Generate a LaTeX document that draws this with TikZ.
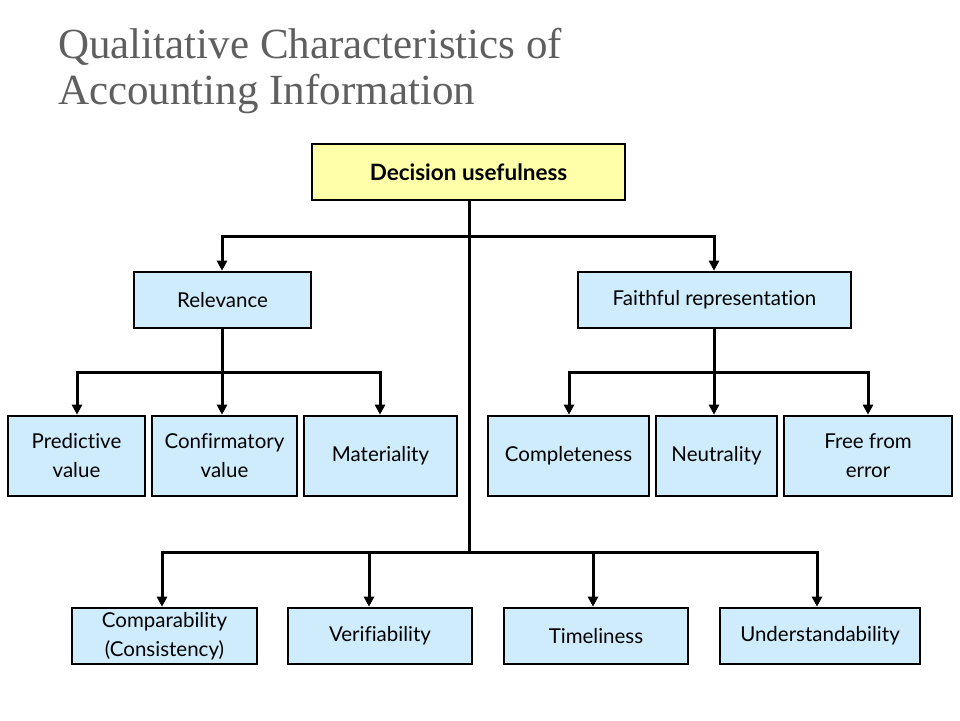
\documentclass[tikz,border=0pt]{standalone}
\usepackage{fontspec}
\setmainfont{Lato}[Ligatures=NoCommon]
\newfontfamily\titlefont{Liberation Serif}
\usetikzlibrary{arrows.meta}
\definecolor{boxblue}{RGB}{206,236,252}
\definecolor{boxyellow}{RGB}{255,255,170}
\definecolor{titlegray}{RGB}{95,95,95}
\begin{document}
\begin{tikzpicture}[x=1pt,y=-1pt,
  bx/.style={draw,line width=2.6pt,fill=boxblue,align=center,font=\fontsize{20.5}{29}\selectfont,inner sep=0pt},
  con/.style={line width=3pt},
  arr/.style={line width=3pt,-{Triangle[length=10pt,width=10pt]}}]
\useasboundingbox (0,0) rectangle (960,720);
\fill[white] (0,0) rectangle (960,720);
\node[anchor=north west,align=left,text=titlegray,font=\titlefont\fontsize{43}{46}\selectfont,inner sep=0pt] (title) at (58,28) {Qualitative Characteristics of\\Accounting Information};
\newcommand\bx[6]{\node[bx,minimum width=#3-#2,minimum height=#5-#4] (#1) at ({(#2+#3)/2},{(#4+#5)/2}) {#6};}
\node[draw,line width=2.6pt,fill=boxyellow,minimum width=313,minimum height=56,font=\bfseries\fontsize{22.5}{26}\selectfont] (dec) at (468.5,172) {Decision usefulness};
\bx{rel}{134}{311}{272}{328}{Relevance}
\bx{fai}{578}{851}{272}{328}{Faithful representation}
\bx{pre}{8}{145}{416}{496}{Predictive\\value}
\bx{con}{152}{297}{416}{496}{Confirmatory\\value}
\bx{mat}{304}{457}{416}{496}{Materiality}
\bx{com}{488}{649}{416}{496}{Completeness}
\bx{neu}{656}{777}{416}{496}{Neutrality}
\bx{fre}{784}{952}{416}{496}{Free from\\error}
\bx{cmp}{72}{257}{608}{664}{Comparability\\(Consistency)}
\bx{ver}{288}{472}{608}{664}{Verifiability}
\bx{tim}{504}{688}{608}{664}{Timeliness}
\bx{und}{720}{920}{608}{664}{Understandability}
\coordinate (t1) at (469,236);
\coordinate (t2) at (469,553.5);
\draw[con] (dec.south -| t1) -- (t2);
\draw[con] (220.5,236) -- (715.5,236);
\draw[arr] (222,234.5) -- (rel.north -| 222,0);
\draw[arr] (714,234.5) -- (fai.north -| 714,0);
\draw[con] (rel.south -| 222,0) -- (222,373.5);
\draw[con] (75.5,372) -- (381.5,372);
\draw[arr] (77,370.5) -- (pre.north -| 77,0);
\draw[arr] (222,370.5) -- (con.north -| 222,0);
\draw[arr] (380,370.5) -- (mat.north -| 380,0);
\draw[con] (fai.south -| 714,0) -- (714,373.5);
\draw[con] (567.5,372) -- (869.5,372);
\draw[arr] (569,370.5) -- (com.north -| 569,0);
\draw[arr] (714,370.5) -- (neu.north -| 714,0);
\draw[arr] (868,370.5) -- (fre.north -| 868,0);
\draw[con] (160.5,552) -- (818.5,552);
\draw[arr] (162,550.5) -- (cmp.north -| 162,0);
\draw[arr] (369,550.5) -- (ver.north -| 369,0);
\draw[arr] (593,550.5) -- (tim.north -| 593,0);
\draw[arr] (817,550.5) -- (und.north -| 817,0);
\end{tikzpicture}
\end{document}
